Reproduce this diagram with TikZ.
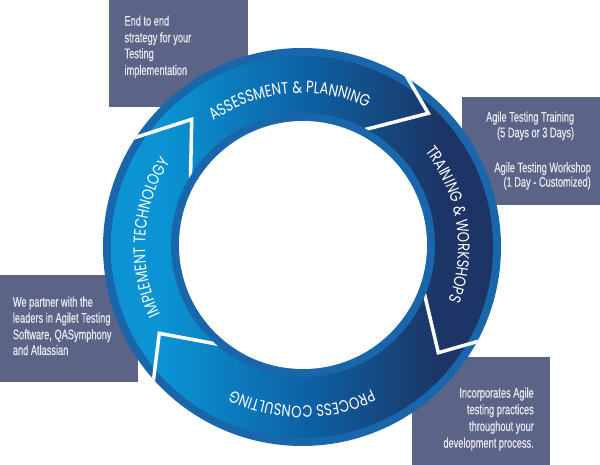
\documentclass[tikz,border=0pt]{standalone}
\usepackage{fontspec}
\usetikzlibrary{decorations.text}
\newfontfamily\boxfont{Liberation Sans}[FakeStretch=0.66,FakeBold=0.6]
\newfontfamily\ringfont{Poppins}[FakeStretch=0.8]
\definecolor{boxbg}{HTML}{5B6387}
\definecolor{boxtx}{HTML}{E6E8EF}
\definecolor{rim}{HTML}{1967AA}
\definecolor{ringA}{HTML}{0B93D3}
\definecolor{ringB}{HTML}{0C63A6}
\definecolor{ringC}{HTML}{1C3566}
\pgfdeclarehorizontalshading{ringshade}{100bp}{color(0bp)=(ringA); color(32bp)=(ringA); color(50bp)=(ringB); color(68bp)=(ringC); color(100bp)=(ringC)}
\begin{document}
\begin{tikzpicture}[x=1pt,y=1pt,
  boxrect/.style={fill=boxbg, draw=none, inner sep=0pt, outer sep=0pt, anchor=south west},
  boxline/.style={font=\boxfont\fontsize{14}{16}\selectfont, text=boxtx, inner sep=0pt},
  gapline/.style={draw=white, line width=3.5pt, line join=miter, line cap=butt}]
\useasboundingbox (0,0) rectangle (600,465);
\fill[white] (0,0) rectangle (600,465);
% text boxes
\node[boxrect, minimum width=139pt, minimum height=107pt] (box1) at (109,358) {};
\node[boxrect, minimum width=138pt, minimum height=108pt] (box2) at (462,260) {};
\node[boxrect, minimum width=138pt, minimum height=107pt] (box3) at (0,83) {};
\node[boxrect, minimum width=138pt, minimum height=108pt] (box4) at (412,0) {};
\node[boxline, anchor=base west] (t1a) at (124.3,439.3) {End to end};
\node[boxline, anchor=base west] (t1b) at (124.3,422.7) {strategy for your};
\node[boxline, anchor=base west] (t1c) at (124.3,406.7) {Testing};
\node[boxline, anchor=base west] (t1d) at (124.3,390) {implementation};
\node[boxline, anchor=base east] (t2a) at (574.3,343.3) {Agile Testing Training};
\node[boxline, anchor=base east] (t2b) at (574.3,327.7) {(5 Days or 3 Days)};
\node[boxline, anchor=base east] (t2c) at (591,292.7) {Agile Testing Workshop};
\node[boxline, anchor=base east] (t2d) at (591,278.3) {(1 Day - Customized)};
\node[boxline, anchor=base west] (t3a) at (12.7,158.3) {We partner with the};
\node[boxline, anchor=base west] (t3b) at (12.7,142.3) {leaders in Agilet Testing};
\node[boxline, anchor=base west] (t3c) at (12.7,125.7) {Software, QASymphony};
\node[boxline, anchor=base west] (t3d) at (12.7,110) {and Atlassian};
\node[boxline, anchor=base east] (t4a) at (534,67.3) {Incorporates Agile};
\node[boxline, anchor=base east] (t4b) at (534,50.7) {testing practices};
\node[boxline, anchor=base east] (t4c) at (534,34) {throughout your};
\node[boxline, anchor=base east] (t4d) at (534,17.3) {development process.};
% ring
\coordinate (C) at (302,218);
\coordinate (Ci) at (303,220);
\fill[rim] (C) circle[radius=199];
\shade[shading=ringshade] (C) circle[radius=191];
\begin{scope}
\clip (C) circle[radius=199];
\draw[gapline] (127,324.8) -- (191.7,345.7) -- (190.5,285);
\draw[gapline] (400,400) -- (428.3,351.7) -- (346.7,330.7);
\draw[gapline] (424,173) -- (438.3,112.3) -- (490,127);
\draw[gapline] (218,120.7) -- (159.3,131.7) -- (152,73);
\end{scope}
\fill[rim] (Ci) circle[radius=132];
\fill[white] (Ci) circle[radius=124];
% ring labels
\path[shift={(C)}, decorate, decoration={text along path, text align=center,
  text={|\ringfont\fontsize{16.5}{19}\selectfont\color{white}|ASSESSMENT {\&} PLANNING}}]
  (150:154) arc[start angle=150, end angle=40, radius=154];
\path[shift={(C)}, decorate, decoration={text along path, text align=center,
  text={|\ringfont\fontsize{16.5}{19}\selectfont\color{white}|TRAINING {\&} WORKSHOPS}}]
  (63.9:156) arc[start angle=63.9, end angle=-46.1, radius=156];
\path[shift={(C)}, decorate, decoration={text along path, text align=center,
  text={|\ringfont\fontsize{16.5}{19}\selectfont\color{white}|PROCESS CONSULTING}}]
  (-35:159) arc[start angle=-35, end angle=-145, radius=159];
\path[shift={(C)}, decorate, decoration={text along path, text align=center,
  text={|\ringfont\fontsize{16.5}{19}\selectfont\color{white}|IMPLEMENT TECHNOLOGY}}]
  (231.2:157) arc[start angle=231.2, end angle=121.2, radius=157];
\end{tikzpicture}
\end{document}
